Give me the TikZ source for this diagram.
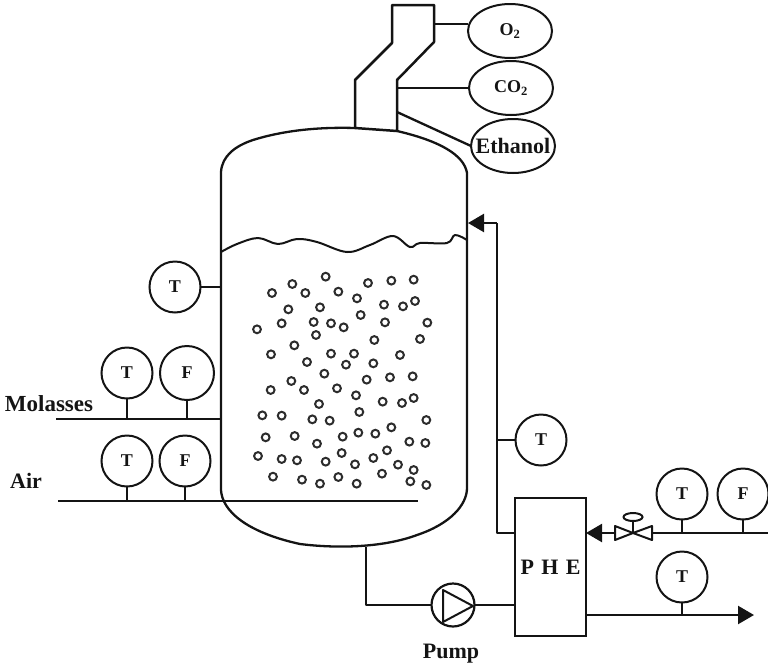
\documentclass[tikz,border=0pt]{standalone}
\usepackage{fontspec}
\setmainfont{Liberation Serif}
\usetikzlibrary{shapes.geometric,arrows.meta}
\definecolor{ink}{HTML}{141414}
\tikzset{
  base/.style={draw=ink,line width=2.3pt,line join=round},
  thin line/.style={draw=ink,line width=2pt,line join=round},
  gauge/.style={circle,draw=ink,line width=2pt,minimum size=51pt,inner sep=0pt,outer sep=0pt,font=\fontsize{18}{20}\selectfont\bfseries,text=ink},
  analyser/.style={ellipse,draw=ink,line width=2pt,minimum width=84pt,minimum height=54pt,inner sep=0pt,outer sep=0pt,font=\fontsize{18}{20}\selectfont\bfseries,text=ink},
  lab/.style={inner sep=0pt,font=\fontsize{23}{25}\selectfont\bfseries,text=ink},
  bub/.style={draw=ink!90,line width=2pt},
  bigtip/.style={-{Triangle[length=16pt,width=18pt,fill=ink]}}
}
\begin{document}
\begin{tikzpicture}[x=1pt,y=-1pt]
\useasboundingbox (0,0) rectangle (768,667);
% vessel
\draw[base] (355,128) .. controls (320,127) and (285,130) .. (253,140)
  .. controls (235,146) and (222,156) .. (221,172) -- (221,490)
  .. controls (222,510) and (245,532) .. (300,544)
  .. controls (340,549) and (385,547) .. (417,535)
  .. controls (450,524) and (467,505) .. (467,488) -- (467,173)
  .. controls (464,155) and (440,141) .. (397,131);
% stack
\coordinate (sa) at (397,88);
\coordinate (sb) at (397,112);
\coordinate (sc) at (434,24);
\draw[base,line width=2.5pt] (397,131) -- (355,128) -- (355,80) -- (392,43) -- (392,5) -- (434,5) -- (434,42) -- (397,80) -- cycle;
% liquid level
\draw[base,line width=2pt] plot[smooth,tension=0.6] coordinates {(221,252) (237,244) (258,238) (278,244) (297,239) (317,242) (347,252) (370,245) (393,236) (410,247) (420,243) (447,243) (455,235) (467,240)};
% bubbles
\foreach \a/\b in {317/170,217/192,156/219,256/219,355/215,444/189,514/182,581/179,411/235,205/268,300/262,492/254,549/259,585/243,185/310,281/306,333/310,371/322,422/285,495/307,622/308,111/328,288/345,223/376,463/360,600/357}
  \draw[bub] ({220+\a/3},{220+\b/3}) circle (3.9pt);
\foreach \a/\b in {153/13,333/11,402/11,540/15,261/36,378/44,460/40,313/71,214/93,440/89,510/82,578/79,152/120,252/120,351/115,408/136,297/162,488/155,546/159,581/144,127/196,185/197,277/208,329/212,418/186,619/210,137/262,224/258,291/281,368/260,415/248,466/251,514/232,568/275,616/279,114/318,185/327,231/331,317/335,365/309,405/343,460/324,501/301,534/344,581/360,159/380,246/389,300/401,355/381,410/401,486/371,571/394,619/405}
  \draw[bub] ({220+\a/3},{350+\b/3}) circle (3.9pt);
% analysers
\node[analyser] (o2) at (510,31) {O\textsubscript{2}};
\node[analyser] (co2) at (511,88) {CO\textsubscript{2}};
\node[analyser,font=\fontsize{22}{24}\selectfont\bfseries] (eth) at (513,146) {\makebox[0pt]{Ethanol}};
\draw[thin line] (sc) -- (sc -| o2.west);
\draw[thin line] (sa) -- (co2.west);
\draw[base] (sb) -- (eth.west);
% left side
\coordinate (wallT) at (221,287);
\node[gauge] (tv) at (175,287) {T};
\draw[thin line] (tv.east) -- (wallT);
\coordinate (molL) at (56,419);
\coordinate (molR) at (221,419);
\coordinate (airL) at (58,501);
\coordinate (airR) at (418,501);
\draw[base] (molL) -- (molR);
\draw[base] (airL) -- (airR);
\node[gauge] (tm) at (127,373) {T};
\node[gauge,minimum size=54pt] (fm) at (187,373) {F};
\node[gauge] (ta) at (127,461) {T};
\node[gauge] (fa) at (185,461) {F};
\draw[thin line] (tm.south) -- (tm.south |- molL);
\draw[thin line] (fm.south) -- (fm.south |- molL);
\draw[thin line] (ta.south) -- (ta.south |- airL);
\draw[thin line] (fa.south) -- (fa.south |- airL);
\node[lab] (mol) at (49,404) {Molasses};
\node[lab,font=\fontsize{22}{24}\selectfont\bfseries] (air) at (26,481) {Air};
% PHE
\node[rectangle,draw=ink,line width=2.5pt,minimum width=71pt,minimum height=138pt,inner sep=0pt,outer sep=0pt,font=\fontsize{22}{24}\selectfont\bfseries,text=ink] (phe) at (550.5,567) {P\,\,H\,\,E};
% pump
\node[circle,draw=ink,line width=2.2pt,minimum size=43pt,inner sep=0pt,outer sep=0pt] (pump) at (453,605) {};
\draw[thin line] (443,590) -- (473,606) -- (443,622) -- cycle;
\coordinate (bot) at (366,547);
\draw[thin line] (bot) |- (pump.west);
\draw[base] (pump.east) -- (pump.east -| phe.west);
\node[lab,font=\fontsize{22}{24}\selectfont\bfseries] (plab) at (451,654) {Pump};
% return line
\coordinate (ret) at (497,533);
\coordinate (retTop) at (497,223);
\coordinate (inlet) at (468,223);
\draw[base] (phe.west |- ret) -- (ret) -- (retTop);
\draw[base,bigtip] (retTop) -- (inlet);
\node[gauge] (tr) at (541,440) {T};
\draw[thin line] (tr.west) -- (tr.west -| ret);
% coolant in
\coordinate (valve) at (633,533);
\coordinate (cw) at (768,533);
\draw[base] (cw) -- (652,533);
\draw[thin line,fill=white] (615,526) -- (633,533) -- (615,540) -- cycle;
\draw[thin line,fill=white] (652,526) -- (633,533) -- (652,540) -- cycle;
\draw[thin line] (valve) -- (633,521);
\node[ellipse,draw=ink,line width=2pt,minimum width=19pt,minimum height=8pt,inner sep=0pt] (hand) at (633,517) {};
\draw[base,bigtip] (615,533) -- (phe.east |- valve);
\node[gauge] (tc) at (682,494) {T};
\node[gauge] (fc) at (743,494) {F};
\draw[thin line] (tc.south) -- (tc.south |- cw);
\draw[thin line] (fc.south) -- (fc.south |- cw);
% coolant out
\coordinate (out) at (754,615);
\draw[base,bigtip] (phe.east |- out) -- (out);
\node[gauge] (to) at (682,577) {T};
\draw[thin line] (to.south) -- (to.south |- out);
\end{tikzpicture}
\end{document}
